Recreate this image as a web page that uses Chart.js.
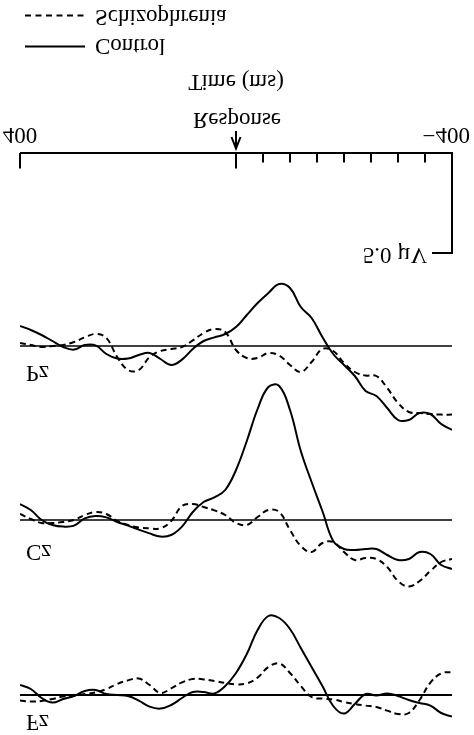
<!DOCTYPE html>
<html>
<head>
<meta charset="utf-8">
<script src="https://cdn.jsdelivr.net/npm/chart.js@4.4.1/dist/chart.umd.min.js"></script>
<style>
  html, body { margin: 0; padding: 0; background: #fff; }
  #wrap { width: 474px; height: 735px; position: relative; }
</style>
</head>
<body>
<div id="wrap"><canvas id="erpChart"></canvas></div>
<script>
// Time (ms) of each sample, left to right as in the figure
const times = [400, 380, 360, 340, 320, 300, 280, 260, 240, 220, 200, 180, 160, 140, 120, 100, 80, 60, 40, 20,
  0, -20, -40, -60, -80, -100, -120, -140, -160, -180, -200, -220, -240, -260, -280, -300, -320, -340, -360, -380, -400];

// Amplitudes (µV)
const pzControl = [1.0, 0.8, 0.55, 0.25, -0.05, -0.18, 0.05, 0.03, -0.4, -0.63, -0.63, -0.45, -0.35, -0.65, -0.95, -0.68, -0.15, 0.25, 0.43, 0.6,
  0.95, 1.55, 2.15, 2.65, 3.1, 2.9, 1.95, 1.4, 0.45, -0.4, -0.95, -1.5, -2.25, -2.5, -3.1, -3.7, -3.7, -3.35, -3.4, -3.9, -4.2];
const pzSchizo = [0.15, 0.05, -0.05, 0, 0.05, 0.2, 0.43, 0.6, 0.4, -0.55, -1.2, -1.2, -0.55, -0.25, -0.15, -0.05, 0.28, 0.65, 0.85, 0.7,
  -0.2, -0.6, -0.6, -0.35, -0.48, -0.95, -1.3, -0.8, -0.15, -0.25, -0.85, -1.3, -1.48, -1.5, -2.1, -2.85, -3.3, -3.35, -3.4, -3.43, -3.43];
const czControl = [0.8, 0.5, 0, -0.25, -0.33, -0.28, 0.08, 0.2, 0.13, -0.1, -0.28, -0.48, -0.67, -0.83, -0.75, -0.33, 0.4, 0.9, 1.13, 1.5,
  2.5, 3.95, 5.55, 6.65, 6.7, 5.5, 3.45, 1.9, 0.45, -1.05, -1.45, -1.5, -1.45, -1.45, -1.75, -2.0, -1.95, -1.6, -1.7, -2.25, -2.45];
const czSchizo = [0.3, 0.05, -0.15, -0.15, -0.1, 0, 0.25, 0.4, 0.3, -0.05, -0.25, -0.38, -0.42, -0.42, -0.05, 0.7, 0.8, 0.65, 0.48, 0.25,
  -0.15, -0.25, 0.15, 0.5, 0.4, -0.5, -1.3, -1.6, -1.15, -1.1, -1.6, -2.0, -1.9, -1.95, -2.35, -3.05, -3.33, -3.05, -2.55, -2.1, -1.95];
const fzControl = [0.5, 0.3, -0.15, -0.38, -0.2, -0.05, 0.2, 0.25, 0.05, 0, -0.05, -0.28, -0.58, -0.68, -0.5, -0.15, 0.15, 0.15, 0.08, 0.45,
  1.1, 2.05, 3.25, 3.95, 3.85, 3.3, 2.35, 1.4, 0.45, -0.55, -0.93, -0.45, 0.05, -0.03, 0.08, -0.05, -0.25, -0.4, -0.53, -0.9, -1.08];
const fzSchizo = [-0.28, -0.33, -0.3, -0.2, -0.08, -0.03, 0.05, 0.13, 0.3, 0.55, 0.73, 0.83, 0.5, 0.1, 0.33, 0.63, 0.8, 0.78, 0.7, 0.6,
  0.53, 0.58, 0.87, 1.4, 1.58, 1.1, 0.45, -0.1, -0.18, -0.22, -0.35, -0.45, -0.53, -0.6, -0.78, -0.95, -0.9, -0.25, 0.62, 1.08, 1.15];

const channels = ['Pz', 'Cz', 'Fz'];
const seriesNames = ['Schizophrenia', 'Control'];
const timeTickLabels = ['400', '\u2212400'];
const minorTicks = [-50, -100, -150, -200, -250, -300, -350];
const scaleBarLabel = '5.0 \u00b5V';

// layout: where each channel's zero line sits (µV units on the shared axis)
const channelOffset = { Pz: 17.45, Cz: 8.75, Fz: 0 };
const labelDrop = { Pz: 20, Cz: 25, Fz: 20 };
const axisLevel = 27.1;

const series = {
  Pz: [pzSchizo, pzControl],
  Cz: [czSchizo, czControl],
  Fz: [fzSchizo, fzControl]
};

const toPoints = (vals, off) => vals.map((v, i) => ({ x: times[i], y: v + off }));

const datasets = [];
channels.forEach(ch => {
  const off = channelOffset[ch];
  datasets.push({
    label: ch + ' baseline',
    data: [{ x: times[0], y: off }, { x: times[times.length - 1], y: off }],
    borderColor: '#000',
    borderWidth: ch === 'Fz' ? 2 : 1.5,
    tension: 0
  });
  datasets.push({
    label: seriesNames[0],
    data: toPoints(series[ch][0], off),
    borderColor: '#000',
    borderWidth: 2,
    borderDash: [6, 4],
    tension: 0.4
  });
  datasets.push({
    label: seriesNames[1],
    data: toPoints(series[ch][1], off),
    borderColor: '#000',
    borderWidth: 2,
    tension: 0.4
  });
});

// text in the figure is mirrored top to bottom
function flipText(ctx, str, x, y, align) {
  ctx.save();
  ctx.translate(x, y);
  ctx.scale(1, -1);
  ctx.textAlign = align;
  ctx.textBaseline = 'alphabetic';
  ctx.fillText(str, 0, 0);
  ctx.restore();
}

function line(ctx, x1, y1, x2, y2) {
  ctx.beginPath();
  ctx.moveTo(x1, y1);
  ctx.lineTo(x2, y2);
  ctx.stroke();
}

const figureDecor = {
  id: 'figureDecor',
  afterDatasetsDraw(chart) {
    const ctx = chart.ctx;
    const xs = chart.scales.x;
    const ys = chart.scales.y;
    ctx.save();
    ctx.strokeStyle = '#000';
    ctx.fillStyle = '#000';
    ctx.font = '23px "Liberation Serif", "Times New Roman", serif';

    // legend
    ctx.lineWidth = 2;
    ctx.setLineDash([6, 4.5]);
    line(ctx, 25, 15.5, 84, 15.5);
    ctx.setLineDash([]);
    line(ctx, 25, 46.5, 85, 46.5);
    flipText(ctx, seriesNames[0], 95, 10, 'left');
    flipText(ctx, seriesNames[1], 95, 39, 'left');

    // time axis
    const x0 = xs.getPixelForValue(times[0]);
    const x1 = xs.getPixelForValue(times[times.length - 1]);
    const xr = xs.getPixelForValue(0);
    const ay = ys.getPixelForValue(axisLevel);
    const by = ys.getPixelForValue(axisLevel - 5);
    flipText(ctx, 'Time (ms)', xr, 75, 'center');
    flipText(ctx, 'Response', xr + 1, 113, 'center');
    flipText(ctx, timeTickLabels[0], x0, 128, 'center');
    flipText(ctx, timeTickLabels[1], x1 + 18, 128, 'right');

    ctx.lineWidth = 2;
    line(ctx, x0, ay, x1 + 1, ay);
    line(ctx, x0, ay, x0, ay + 15.5);
    line(ctx, xr, ay, xr, ay + 15.5);
    minorTicks.forEach(t => {
      const px = xs.getPixelForValue(t);
      line(ctx, px, ay, px, ay + 9.5);
    });
    // scale bar
    line(ctx, x1, ay - 1, x1, by);
    line(ctx, x1 + 1, by, x1 - 20, by);
    flipText(ctx, scaleBarLabel, x1 - 25, by - 5, 'right');

    // response arrow
    ctx.lineWidth = 2;
    line(ctx, xr, 131, xr, 148);
    ctx.beginPath();
    ctx.moveTo(xr - 4.5, 137);
    ctx.lineTo(xr, 148.5);
    ctx.lineTo(xr + 4.5, 137);
    ctx.stroke();

    // channel labels
    channels.forEach(ch => {
      const py = ys.getPixelForValue(channelOffset[ch]) + labelDrop[ch];
      flipText(ctx, ch, 26, py, 'left');
    });
    ctx.restore();
  }
};

new Chart(document.getElementById('erpChart'), {
  type: 'line',
  data: { datasets },
  options: {
    responsive: true,
    maintainAspectRatio: false,
    animation: false,
    layout: { padding: { left: 20, right: 22, top: 0, bottom: 0 } },
    elements: { point: { radius: 0 }, line: { borderCapStyle: 'butt' } },
    plugins: { legend: { display: false }, tooltip: { enabled: false } },
    scales: {
      x: { type: 'linear', min: -400, max: 400, reverse: true, display: false },
      y: { type: 'linear', min: -2, max: 34.75, display: false }
    }
  },
  plugins: [figureDecor]
});
</script>
</body>
</html>
